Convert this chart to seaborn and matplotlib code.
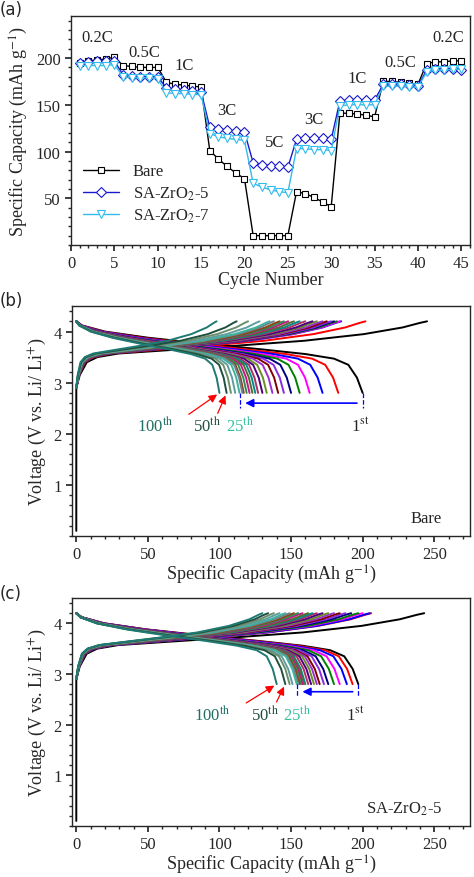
import numpy as np
import matplotlib.pyplot as plt
import seaborn as sns

# ---- panel (a): rate capability ----
cycles = list(range(1, 46))
bare = [195, 197, 198, 199, 201, 192, 191, 190, 190, 190, 174, 172, 171, 170, 169,
        101, 92, 84, 77, 71, 10, 10, 10, 10, 10, 57, 55, 51, 46, 41,
        141, 141, 140, 139, 137, 175, 175, 174, 173, 172, 194, 196, 196, 197, 197]
sa5 = [195, 196, 197, 197, 197, 182, 181, 180, 180, 180, 168, 167, 166, 165, 164,
       126, 124, 123, 122, 121, 88, 86, 85, 84, 83, 113, 114, 114, 114, 113,
       154, 155, 155, 155, 155, 172, 172, 172, 171, 170, 187, 188, 188, 188, 187]
sa7 = [192, 192, 192, 192, 193, 180, 179, 179, 179, 178, 163, 162, 162, 161, 161,
       119, 116, 114, 113, 112, 66, 62, 59, 57, 56, 103, 103, 102, 102, 101,
       149, 150, 150, 150, 150, 170, 170, 170, 169, 169, 185, 187, 187, 188, 188]
rate_labels = ["0.2C", "0.5C", "1C", "3C", "5C", "3C", "1C", "0.5C", "0.2C"]
rate_label_x = [3, 8.5, 13, 18, 23.5, 28, 33, 38, 43.5]
rate_label_y = [218, 202, 188, 140, 106, 130, 174, 191, 218]

# ---- voltage profiles (normalised capacity fraction, voltage) ----
chg_frac = [0.0, 0.01, 0.03, 0.06, 0.12, 0.25, 0.45, 0.65, 0.82, 0.93, 0.98, 1.0]
chg_volt = [2.9, 3.15, 3.4, 3.5, 3.57, 3.63, 3.72, 3.82, 3.95, 4.08, 4.17, 4.2]
dis_frac = [0.0, 0.02, 0.1, 0.25, 0.45, 0.65, 0.8, 0.9, 0.95, 0.98, 1.0]
dis_volt = [4.2, 4.12, 4.0, 3.88, 3.76, 3.65, 3.56, 3.47, 3.35, 3.1, 2.8]

colors = ["black", "red", "blue", "magenta", "green", "navy", "#8a2be2", "#800000",
          "#9932cc", "#6b8e23", "#4b0082", "#b03060", "#008b8b", "#556b2f", "#c71585",
          "#2e8b57", "#8b4513", "#708090", "#3cb39a", "#5f9ea0", "#6b8e6b",
          "#1f4f3f", "#1e7a72"]

bare_dis = [200, 183, 172, 163, 156, 150, 145, 141, 137, 133, 130, 127, 125, 123,
            121, 119, 117, 116, 114, 111, 108, 105, 100]
bare_chg = [245, 202, 185, 184, 182, 180, 178, 175, 172, 168, 165, 160, 156, 152,
            148, 145, 142, 138, 135, 128, 120, 112, 98]
sa5_dis = [197, 193, 189, 184, 180, 176, 173, 170, 168, 166, 164, 162, 160, 159,
           158, 157, 156, 155, 154, 151, 149, 146, 140]
sa5_chg = [243, 206, 205, 200, 197, 192, 188, 184, 180, 176, 172, 168, 165, 162,
           158, 155, 152, 149, 146, 142, 138, 134, 130]

sns.set_theme(style="ticks")
plt.rcParams['font.family'] = ['Liberation Serif', 'DejaVu Serif']
plt.rcParams['mathtext.fontset'] = 'stix'
plt.rcParams['xtick.direction'] = 'out'
plt.rcParams['ytick.direction'] = 'out'

fig = plt.figure(figsize=(4.74, 8.78), dpi=100)
ax_a = fig.add_axes([71/474, 1-246/878, 399/474, 229/878])
ax_b = fig.add_axes([72/474, 1-537/878, 398/474, 230/878])
ax_c = fig.add_axes([72/474, 1-827/878, 398/474, 228/878])

# panel a
sns.lineplot(x=cycles, y=bare, ax=ax_a, color="black", marker="s", ms=5, mfc="white",
             mec="black", mew=0.8, lw=1, label="Bare")
sns.lineplot(x=cycles, y=sa5, ax=ax_a, color="#1a1acc", marker="D", ms=5, mfc="white",
             mec="#1a1acc", mew=0.8, lw=1, label="SA-ZrO$_2$-5")
sns.lineplot(x=cycles, y=sa7, ax=ax_a, color="#33bbee", marker="v", ms=6, mfc="white",
             mec="#33bbee", mew=0.8, lw=1, label="SA-ZrO$_2$-7")
for t, x, y in zip(rate_labels, rate_label_x, rate_label_y):
    ax_a.text(x, y, t, fontsize=12, ha="center")
ax_a.set_xlim(0, 46)
ax_a.set_ylim(0, 245)
ax_a.set_xticks(range(0, 46, 5))
ax_a.set_yticks([50, 100, 150, 200])
ax_a.set_xlabel("Cycle Number", fontsize=13, labelpad=0)
ax_a.set_ylabel("Specific Capacity (mAh g$^{-1}$)", fontsize=13)
ax_a.legend(loc="lower left", bbox_to_anchor=(0.0, 0.04), frameon=False, fontsize=12,
            handlelength=2.2, labelspacing=0.3, borderpad=0.2)


def draw_curves(ax, dis, chg, name, t_arrow_y):
    for i, (d, c) in enumerate(zip(dis, chg)):
        col = colors[i % len(colors)]
        cx = [f * c for f in chg_frac]
        cy = list(chg_volt)
        if i == 0:
            cx = [0.0] + cx
            cy = [0.1] + cy
        dx = [f * d for f in dis_frac]
        ax.plot(cx, cy, color=col, lw=1.4)
        ax.plot(dx, dis_volt, color=col, lw=1.4)
    ax.set_xlim(-3, 275)
    ax.set_ylim(0, 4.5)
    ax.set_xticks([0, 50, 100, 150, 200, 250])
    ax.set_yticks([1, 2, 3, 4])
    ax.set_xlabel("Specific Capacity (mAh g$^{-1}$)", fontsize=13, labelpad=0)
    ax.set_ylabel("Voltage (V vs. Li/ Li$^{+}$)", fontsize=13)
    ax.text(0.93, 0.06, name, transform=ax.transAxes, ha="right", fontsize=12)
    # annotations
    x1, x25 = dis[0], dis[18]
    ax.plot([x1, x1], [2.8, t_arrow_y - 0.1], ls="--", color="blue", lw=0.9)
    ax.plot([x25, x25], [2.8, t_arrow_y - 0.1], ls="--", color="blue", lw=0.9)
    ax.annotate("", xy=(x25 + 2, t_arrow_y), xytext=(x1 - 2, t_arrow_y),
                arrowprops=dict(arrowstyle="-|>", color="blue", lw=1.2))
    ax.text(x1 - 2, t_arrow_y - 0.55, "1$^{\\rm st}$", ha="center", fontsize=12)
    ax.text(x25, t_arrow_y - 0.55, "25$^{\\rm th}$", ha="center", fontsize=12, color="#33c0a0")
    ax.text(dis[21] - 14, t_arrow_y - 0.55, "50$^{\\rm th}$", ha="center", fontsize=12, color="#1f4f3f")
    ax.text(dis[22] - 45, t_arrow_y - 0.55, "100$^{\\rm th}$", ha="center", fontsize=12, color="#1e6e66")
    ax.annotate("", xy=(dis[22], 2.8), xytext=(dis[22] - 23, t_arrow_y - 0.25),
                arrowprops=dict(arrowstyle="-|>", color="red", lw=0.9))
    ax.annotate("", xy=(dis[21], 2.8), xytext=(dis[21] - 7, t_arrow_y - 0.25),
                arrowprops=dict(arrowstyle="-|>", color="red", lw=0.9))


draw_curves(ax_b, bare_dis, bare_chg, "Bare", 2.6)
draw_curves(ax_c, sa5_dis, sa5_chg, "SA-ZrO$_2$-5", 2.65)

for ax in (ax_a, ax_b, ax_c):
    ax.minorticks_on()
    ax.tick_params(labelsize=12, length=4)
    ax.tick_params(which="minor", length=2)
    for s in ax.spines.values():
        s.set_linewidth(1)

for lab, y in zip(["(a)", "(b)", "(c)"], [0.999, 0.667, 0.334]):
    fig.text(0.0, y, lab, fontsize=12, family="DejaVu Sans", va="top")

fig.savefig("out.png", dpi=100)
